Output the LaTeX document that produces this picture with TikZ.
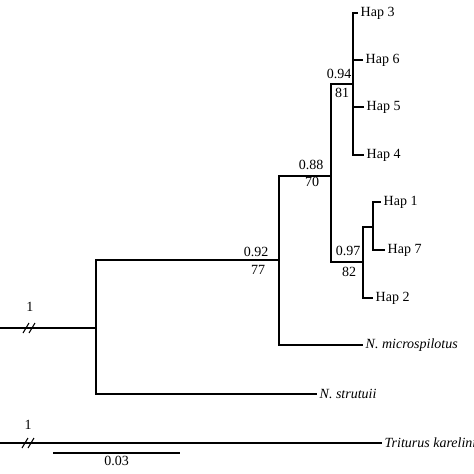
\documentclass[tikz,border=0pt]{standalone}
\usepackage{fontspec}
\setmainfont{Liberation Serif}
\usetikzlibrary{positioning}

\begin{document}
\begin{tikzpicture}[x=1pt, y=-1pt, every node/.style={font=\fontsize{14}{16}\selectfont},
    branch/.style={line width=1.3pt},
    tip/.style={anchor=west, inner sep=2.5pt},
    sup/.style={inner sep=0pt}]
    \clip (0,0) rectangle (474,474);

    % Internal nodes (vertical line, attachment height)
    \coordinate (base) at (0,328);
    \coordinate (root) at (96,328);
    \coordinate (n92) at (279,260);
    \coordinate (n88) at (331,176);
    \coordinate (n94) at (353,84);
    \coordinate (n97) at (363,262);
    \coordinate (n17) at (373,227);

    % Tips
    \node[tip] (hap3) at (358,13) {Hap 3};
    \node[tip] (hap6) at (363,60) {Hap 6};
    \node[tip] (hap5) at (364,107) {Hap 5};
    \node[tip] (hap4) at (364,155) {Hap 4};
    \node[tip] (hap1) at (381,202) {Hap 1};
    \node[tip] (hap7) at (385,250) {Hap 7};
    \node[tip] (hap2) at (373,298) {Hap 2};
    \node[tip] (micro) at (363,345) {\itshape N. microspilotus};
    \node[tip] (strut) at (317,394) {\itshape N. strutuii};

    % Branches
    \draw[branch] (base) -- (root);
    \draw[branch] (root) |- (n92);
    \draw[branch] (root) |- (strut.west);
    \draw[branch] (n92) |- (n88);
    \draw[branch] (n92) |- (micro.west);
    \draw[branch] (n88) |- (n94);
    \draw[branch] (n88) |- (n97);
    \draw[branch] (n94) |- (hap3.west);
    \draw[branch] (n94) |- (hap6.west);
    \draw[branch] (n94) |- (hap5.west);
    \draw[branch] (n94) |- (hap4.west);
    \draw[branch] (n97) |- (n17);
    \draw[branch] (n97) |- (hap2.west);
    \draw[branch] (n17) |- (hap1.west);
    \draw[branch] (n17) |- (hap7.west);

    % Support values (posterior / bootstrap)
    \node[sup] (pp92) at (256,252) {0.92};
    \node[sup] (bs92) at (258,270) {77};
    \node[sup] (pp88) at (311,165) {0.88};
    \node[sup] (bs88) at (312,182) {70};
    \node[sup] (pp94) at (339,74) {0.94};
    \node[sup] (bs94) at (342,93) {81};
    \node[sup] (pp97) at (348,251) {0.97};
    \node[sup] (bs97) at (349,272) {82};

    % Outgroup with broken branch
    \coordinate (outbase) at (0,443);
    \node[tip] (trit) at (382,443) {\itshape Triturus karelinii};
    \draw[branch] (outbase) -- (trit.west);
    \node[sup] (pp0) at (30,307) {1};
    \node[sup] (pp1) at (28,425) {1};
    \foreach \x in {26,32} {
        \draw[line width=1.1pt] (\x-3,333) -- (\x+3,323);
        \draw[line width=1.1pt] (\x-4,448) -- (\x+2,438);
    }

    % Scale bar
    \coordinate (sb1) at (53,453);
    \coordinate (sb2) at (180,453);
    \draw[branch] (sb1) -- (sb2) node[midway, below=3pt, inner sep=0pt] (sblabel) {0.03};
\end{tikzpicture}
\end{document}
